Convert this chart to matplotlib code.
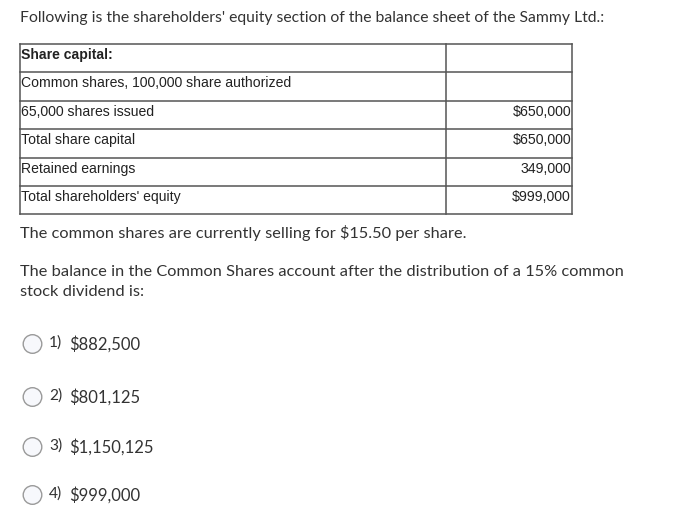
import matplotlib.pyplot as plt
from matplotlib.patches import Circle

# Content of the question
title = "Following is the shareholders' equity section of the balance sheet of the Sammy Ltd.:"
row_labels = ["Share capital:", "Common shares, 100,000 share authorized", "65,000 shares issued",
              "Total share capital", "Retained earnings", "Total shareholders' equity"]
row_values = ["", "", "$650,000", "$650,000", "349,000", "$999,000"]
note = "The common shares are currently selling for $15.50 per share."
question = ["The balance in the Common Shares account after the distribution of a 15% common",
            "stock dividend is:"]
options = ["1)", "2)", "3)", "4)"]
answers = ["$882,500", "$801,125", "$1,150,125", "$999,000"]
option_y = [344, 397, 447, 495]

fig = plt.figure(figsize=(7, 5.17), dpi=100)
ax = fig.add_axes([0, 0, 1, 1])
ax.set_xlim(0, 700)
ax.set_ylim(517, 0)
ax.axis("off")

lato = ["Lato", "DejaVu Sans"]
arial = ["Liberation Sans", "DejaVu Sans"]
grey = "#333333"

ax.text(20, 18, title, family=lato, fontsize=11.35, color=grey, va="center")

# table
left, mid, right = 20, 446, 572
top, rh = 44, 28.4
n = len(row_labels)
for i in range(n + 1):
    ax.plot([left, right], [top + i * rh] * 2, color="#555555", lw=1.1)
for x in (left, mid, right):
    ax.plot([x, x], [top, top + n * rh], color="#555555", lw=1.1)
for i, (lab, val) in enumerate(zip(row_labels, row_values)):
    yc = top + i * rh + 11
    ax.text(left + 1, yc, lab, family=arial, fontsize=10.1, color="#222222", va="center",
            weight="bold" if i == 0 else "normal")
    ax.text(right - 1, yc, val, family=arial, fontsize=10.2, color="#222222", va="center", ha="right")

ax.text(20, 233, note, family=lato, fontsize=11.8, color=grey, va="center")
ax.text(20, 272, question[0], family=lato, fontsize=11.8, color=grey, va="center")
ax.text(20, 292, question[1], family=lato, fontsize=11.8, color=grey, va="center")

for num, ans, y in zip(options, answers, option_y):
    ax.add_patch(Circle((32.5, y), 9.3, facecolor="#f7f8fc", edgecolor="#9a9a9a", lw=1.0))
    ax.text(49, y - 1, num, family=lato, fontsize=11.2, color=grey, va="center")
    ax.text(69, y, ans, family=lato, fontsize=12, color=grey, va="center")

fig.savefig("out.png", dpi=100)
